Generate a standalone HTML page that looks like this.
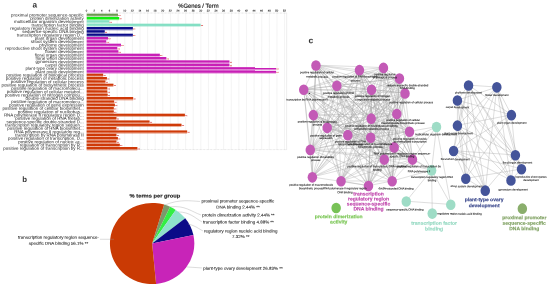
<!DOCTYPE html>
<html><head><meta charset="utf-8"><style>
html,body{margin:0;padding:0;background:#fff;}
svg{display:block;font-family:"Liberation Sans", Arial, sans-serif;text-rendering:geometricPrecision;}
</style></head><body>
<svg width="550" height="287" viewBox="0 0 550 287">
<rect width="550" height="287" fill="#fff"/>
<g transform="rotate(0.04 275 143)">
<text x="32.4" y="7.7" font-size="8.2" font-weight="bold" fill="#2e2e2e">a</text>
<text x="198.3" y="7.9" font-size="5.9" fill="#222" stroke="#222" stroke-width="0.18" text-anchor="middle">%Genes / Term</text>
<line x1="86.70" y1="12.6" x2="86.70" y2="149.94" stroke="#e6e6e6" stroke-width="0.45"/>
<text x="86.50" y="11.6" font-size="2.6" fill="#333" stroke="#333" stroke-width="0.12" text-anchor="middle">0</text>
<line x1="94.31" y1="12.6" x2="94.31" y2="149.94" stroke="#e6e6e6" stroke-width="0.45"/>
<text x="94.11" y="11.6" font-size="2.6" fill="#333" stroke="#333" stroke-width="0.12" text-anchor="middle">2</text>
<line x1="101.92" y1="12.6" x2="101.92" y2="149.94" stroke="#e6e6e6" stroke-width="0.45"/>
<text x="101.72" y="11.6" font-size="2.6" fill="#333" stroke="#333" stroke-width="0.12" text-anchor="middle">4</text>
<line x1="109.52" y1="12.6" x2="109.52" y2="149.94" stroke="#e6e6e6" stroke-width="0.45"/>
<text x="109.32" y="11.6" font-size="2.6" fill="#333" stroke="#333" stroke-width="0.12" text-anchor="middle">6</text>
<line x1="117.13" y1="12.6" x2="117.13" y2="149.94" stroke="#e6e6e6" stroke-width="0.45"/>
<text x="116.93" y="11.6" font-size="2.6" fill="#333" stroke="#333" stroke-width="0.12" text-anchor="middle">8</text>
<line x1="124.74" y1="12.6" x2="124.74" y2="149.94" stroke="#e6e6e6" stroke-width="0.45"/>
<text x="124.54" y="11.6" font-size="2.6" fill="#333" stroke="#333" stroke-width="0.12" text-anchor="middle">10</text>
<line x1="132.35" y1="12.6" x2="132.35" y2="149.94" stroke="#e6e6e6" stroke-width="0.45"/>
<text x="132.15" y="11.6" font-size="2.6" fill="#333" stroke="#333" stroke-width="0.12" text-anchor="middle">12</text>
<line x1="139.96" y1="12.6" x2="139.96" y2="149.94" stroke="#e6e6e6" stroke-width="0.45"/>
<text x="139.76" y="11.6" font-size="2.6" fill="#333" stroke="#333" stroke-width="0.12" text-anchor="middle">14</text>
<line x1="147.56" y1="12.6" x2="147.56" y2="149.94" stroke="#e6e6e6" stroke-width="0.45"/>
<text x="147.36" y="11.6" font-size="2.6" fill="#333" stroke="#333" stroke-width="0.12" text-anchor="middle">16</text>
<line x1="155.17" y1="12.6" x2="155.17" y2="149.94" stroke="#e6e6e6" stroke-width="0.45"/>
<text x="154.97" y="11.6" font-size="2.6" fill="#333" stroke="#333" stroke-width="0.12" text-anchor="middle">18</text>
<line x1="162.78" y1="12.6" x2="162.78" y2="149.94" stroke="#e6e6e6" stroke-width="0.45"/>
<text x="162.58" y="11.6" font-size="2.6" fill="#333" stroke="#333" stroke-width="0.12" text-anchor="middle">20</text>
<line x1="170.39" y1="12.6" x2="170.39" y2="149.94" stroke="#e6e6e6" stroke-width="0.45"/>
<text x="170.19" y="11.6" font-size="2.6" fill="#333" stroke="#333" stroke-width="0.12" text-anchor="middle">22</text>
<line x1="178.00" y1="12.6" x2="178.00" y2="149.94" stroke="#e6e6e6" stroke-width="0.45"/>
<text x="177.80" y="11.6" font-size="2.6" fill="#333" stroke="#333" stroke-width="0.12" text-anchor="middle">24</text>
<line x1="185.60" y1="12.6" x2="185.60" y2="149.94" stroke="#e6e6e6" stroke-width="0.45"/>
<text x="185.40" y="11.6" font-size="2.6" fill="#333" stroke="#333" stroke-width="0.12" text-anchor="middle">26</text>
<line x1="193.21" y1="12.6" x2="193.21" y2="149.94" stroke="#e6e6e6" stroke-width="0.45"/>
<text x="193.01" y="11.6" font-size="2.6" fill="#333" stroke="#333" stroke-width="0.12" text-anchor="middle">28</text>
<line x1="200.82" y1="12.6" x2="200.82" y2="149.94" stroke="#e6e6e6" stroke-width="0.45"/>
<text x="200.62" y="11.6" font-size="2.6" fill="#333" stroke="#333" stroke-width="0.12" text-anchor="middle">30</text>
<line x1="208.43" y1="12.6" x2="208.43" y2="149.94" stroke="#e6e6e6" stroke-width="0.45"/>
<text x="208.23" y="11.6" font-size="2.6" fill="#333" stroke="#333" stroke-width="0.12" text-anchor="middle">32</text>
<line x1="216.04" y1="12.6" x2="216.04" y2="149.94" stroke="#e6e6e6" stroke-width="0.45"/>
<text x="215.84" y="11.6" font-size="2.6" fill="#333" stroke="#333" stroke-width="0.12" text-anchor="middle">34</text>
<line x1="223.64" y1="12.6" x2="223.64" y2="149.94" stroke="#e6e6e6" stroke-width="0.45"/>
<text x="223.44" y="11.6" font-size="2.6" fill="#333" stroke="#333" stroke-width="0.12" text-anchor="middle">36</text>
<line x1="231.25" y1="12.6" x2="231.25" y2="149.94" stroke="#e6e6e6" stroke-width="0.45"/>
<text x="231.05" y="11.6" font-size="2.6" fill="#333" stroke="#333" stroke-width="0.12" text-anchor="middle">38</text>
<line x1="238.86" y1="12.6" x2="238.86" y2="149.94" stroke="#e6e6e6" stroke-width="0.45"/>
<text x="238.66" y="11.6" font-size="2.6" fill="#333" stroke="#333" stroke-width="0.12" text-anchor="middle">40</text>
<line x1="246.47" y1="12.6" x2="246.47" y2="149.94" stroke="#e6e6e6" stroke-width="0.45"/>
<text x="246.27" y="11.6" font-size="2.6" fill="#333" stroke="#333" stroke-width="0.12" text-anchor="middle">42</text>
<line x1="254.08" y1="12.6" x2="254.08" y2="149.94" stroke="#e6e6e6" stroke-width="0.45"/>
<text x="253.88" y="11.6" font-size="2.6" fill="#333" stroke="#333" stroke-width="0.12" text-anchor="middle">44</text>
<line x1="261.68" y1="12.6" x2="261.68" y2="149.94" stroke="#e6e6e6" stroke-width="0.45"/>
<text x="261.48" y="11.6" font-size="2.6" fill="#333" stroke="#333" stroke-width="0.12" text-anchor="middle">46</text>
<line x1="269.29" y1="12.6" x2="269.29" y2="149.94" stroke="#e6e6e6" stroke-width="0.45"/>
<text x="269.09" y="11.6" font-size="2.6" fill="#333" stroke="#333" stroke-width="0.12" text-anchor="middle">48</text>
<line x1="276.90" y1="12.6" x2="276.90" y2="149.94" stroke="#e6e6e6" stroke-width="0.45"/>
<text x="276.70" y="11.6" font-size="2.6" fill="#333" stroke="#333" stroke-width="0.12" text-anchor="middle">50</text>
<line x1="284.51" y1="12.6" x2="284.51" y2="149.94" stroke="#e6e6e6" stroke-width="0.45"/>
<text x="284.31" y="11.6" font-size="2.6" fill="#333" stroke="#333" stroke-width="0.12" text-anchor="middle">52</text>
<line x1="86.7" y1="13.1" x2="286.6" y2="13.1" stroke="#b8b8b8" stroke-width="0.5" stroke-dasharray="0.7 0.7"/>
<line x1="286.6" y1="12.6" x2="286.6" y2="149.94" stroke="#dcdcdc" stroke-width="0.5"/>
<line x1="86.7" y1="149.6" x2="286.6" y2="149.6" stroke="#c4c4c4" stroke-width="0.5" stroke-dasharray="0.7 0.7"/>
<rect x="86.7" y="13.80" width="31.19" height="3.335" fill="#6b9850" fill-opacity="0.4"/>
<rect x="86.7" y="13.80" width="31.19" height="2.15" fill="#6b9850"/>
<text x="118.19" y="17.15" font-size="3.0" font-weight="bold" fill="#d42a2a">**</text>
<text transform="translate(83.7 0) scale(1.035 1)" x="0" y="16.60" font-size="4.3" fill="#222" text-anchor="end">proximal promoter sequence-specific</text>
<rect x="86.7" y="17.14" width="32.33" height="3.335" fill="#10ee10" fill-opacity="0.4"/>
<rect x="86.7" y="17.14" width="32.33" height="2.15" fill="#10ee10"/>
<text x="119.33" y="20.48" font-size="3.0" font-weight="bold" fill="#d42a2a">**</text>
<text transform="translate(83.7 0) scale(1.035 1)" x="0" y="19.93" font-size="4.3" fill="#222" text-anchor="end">protein dimerization activity</text>
<rect x="86.7" y="20.47" width="22.44" height="3.335" fill="#84dfc4" fill-opacity="0.4"/>
<rect x="86.7" y="20.47" width="22.44" height="2.15" fill="#84dfc4"/>
<text x="109.44" y="23.82" font-size="3.0" font-weight="bold" fill="#d42a2a">**</text>
<text transform="translate(83.7 0) scale(1.035 1)" x="0" y="23.27" font-size="4.3" fill="#222" text-anchor="end">multicellular organism development</text>
<rect x="86.7" y="23.80" width="113.74" height="3.335" fill="#84dfc4" fill-opacity="0.4"/>
<rect x="86.7" y="23.80" width="113.74" height="2.15" fill="#84dfc4"/>
<text x="200.74" y="27.15" font-size="3.0" font-weight="bold" fill="#d42a2a">**</text>
<text transform="translate(83.7 0) scale(1.035 1)" x="0" y="26.60" font-size="4.3" fill="#222" text-anchor="end">transcription factor binding</text>
<rect x="86.7" y="27.14" width="46.03" height="3.335" fill="#0b0b8a" fill-opacity="0.4"/>
<rect x="86.7" y="27.14" width="46.03" height="2.15" fill="#0b0b8a"/>
<text x="133.03" y="30.49" font-size="3.0" font-weight="bold" fill="#d42a2a">**</text>
<text transform="translate(83.7 0) scale(1.035 1)" x="0" y="29.94" font-size="4.3" fill="#222" text-anchor="end">regulatory region nucleic acid binding</text>
<rect x="86.7" y="30.48" width="17.88" height="3.335" fill="#0b0b8a" fill-opacity="0.4"/>
<rect x="86.7" y="30.48" width="17.88" height="2.15" fill="#0b0b8a"/>
<text x="104.88" y="33.83" font-size="3.0" font-weight="bold" fill="#d42a2a">**</text>
<text transform="translate(83.7 0) scale(1.035 1)" x="0" y="33.27" font-size="4.3" fill="#222" text-anchor="end">sequence-specific DNA binding</text>
<rect x="86.7" y="33.81" width="46.03" height="3.335" fill="#0b0b8a" fill-opacity="0.4"/>
<rect x="86.7" y="33.81" width="46.03" height="2.15" fill="#0b0b8a"/>
<text x="133.03" y="37.16" font-size="3.0" font-weight="bold" fill="#d42a2a">**</text>
<text transform="translate(83.7 0) scale(1.035 1)" x="0" y="36.61" font-size="4.3" fill="#222" text-anchor="end">transcription regulatory region D...</text>
<rect x="86.7" y="37.14" width="21.30" height="3.335" fill="#c81fb6" fill-opacity="0.4"/>
<rect x="86.7" y="37.14" width="21.30" height="2.15" fill="#c81fb6"/>
<text x="108.30" y="40.49" font-size="3.0" font-weight="bold" fill="#d42a2a">**</text>
<text transform="translate(83.7 0) scale(1.035 1)" x="0" y="39.94" font-size="4.3" fill="#222" text-anchor="end">plant organ development</text>
<rect x="86.7" y="40.48" width="19.40" height="3.335" fill="#c81fb6" fill-opacity="0.4"/>
<rect x="86.7" y="40.48" width="19.40" height="2.15" fill="#c81fb6"/>
<text x="106.40" y="43.83" font-size="3.0" font-weight="bold" fill="#d42a2a">**</text>
<text transform="translate(83.7 0) scale(1.035 1)" x="0" y="43.28" font-size="4.3" fill="#222" text-anchor="end">shoot system development</text>
<rect x="86.7" y="43.81" width="34.24" height="3.335" fill="#c81fb6" fill-opacity="0.4"/>
<rect x="86.7" y="43.81" width="34.24" height="2.15" fill="#c81fb6"/>
<text x="121.24" y="47.16" font-size="3.0" font-weight="bold" fill="#d42a2a">**</text>
<text transform="translate(83.7 0) scale(1.035 1)" x="0" y="46.61" font-size="4.3" fill="#222" text-anchor="end">phyllome development</text>
<rect x="86.7" y="47.15" width="30.43" height="3.335" fill="#c81fb6" fill-opacity="0.4"/>
<rect x="86.7" y="47.15" width="30.43" height="2.15" fill="#c81fb6"/>
<text x="117.43" y="50.50" font-size="3.0" font-weight="bold" fill="#d42a2a">**</text>
<text transform="translate(83.7 0) scale(1.035 1)" x="0" y="49.95" font-size="4.3" fill="#222" text-anchor="end">reproductive shoot system development</text>
<rect x="86.7" y="50.48" width="31.57" height="3.335" fill="#c81fb6" fill-opacity="0.4"/>
<rect x="86.7" y="50.48" width="31.57" height="2.15" fill="#c81fb6"/>
<text x="118.57" y="53.84" font-size="3.0" font-weight="bold" fill="#d42a2a">**</text>
<text transform="translate(83.7 0) scale(1.035 1)" x="0" y="53.28" font-size="4.3" fill="#222" text-anchor="end">flower development</text>
<rect x="86.7" y="53.82" width="73.04" height="3.335" fill="#c81fb6" fill-opacity="0.4"/>
<rect x="86.7" y="53.82" width="73.04" height="2.15" fill="#c81fb6"/>
<text x="160.04" y="57.17" font-size="3.0" font-weight="bold" fill="#d42a2a">**</text>
<text transform="translate(83.7 0) scale(1.035 1)" x="0" y="56.62" font-size="4.3" fill="#222" text-anchor="end">floral organ development</text>
<rect x="86.7" y="57.16" width="79.50" height="3.335" fill="#c81fb6" fill-opacity="0.4"/>
<rect x="86.7" y="57.16" width="79.50" height="2.15" fill="#c81fb6"/>
<text x="166.50" y="60.51" font-size="3.0" font-weight="bold" fill="#d42a2a">**</text>
<text transform="translate(83.7 0) scale(1.035 1)" x="0" y="59.95" font-size="4.3" fill="#222" text-anchor="end">floral whorl development</text>
<rect x="86.7" y="60.49" width="142.65" height="3.335" fill="#c81fb6" fill-opacity="0.4"/>
<rect x="86.7" y="60.49" width="142.65" height="2.15" fill="#c81fb6"/>
<text x="229.65" y="63.84" font-size="3.0" font-weight="bold" fill="#d42a2a">**</text>
<text transform="translate(83.7 0) scale(1.035 1)" x="0" y="63.29" font-size="4.3" fill="#222" text-anchor="end">gynoecium development</text>
<rect x="86.7" y="63.83" width="142.65" height="3.335" fill="#c81fb6" fill-opacity="0.4"/>
<rect x="86.7" y="63.83" width="142.65" height="2.15" fill="#c81fb6"/>
<text x="229.65" y="67.18" font-size="3.0" font-weight="bold" fill="#d42a2a">**</text>
<text transform="translate(83.7 0) scale(1.035 1)" x="0" y="66.63" font-size="4.3" fill="#222" text-anchor="end">carpel development</text>
<rect x="86.7" y="67.16" width="189.25" height="3.335" fill="#c81fb6" fill-opacity="0.4"/>
<rect x="86.7" y="67.16" width="189.25" height="2.15" fill="#c81fb6"/>
<text x="276.25" y="70.51" font-size="3.0" font-weight="bold" fill="#d42a2a">**</text>
<text transform="translate(83.7 0) scale(1.035 1)" x="0" y="69.96" font-size="4.3" fill="#222" text-anchor="end">plant-type ovary development</text>
<rect x="86.7" y="70.50" width="189.25" height="3.335" fill="#c81fb6" fill-opacity="0.4"/>
<rect x="86.7" y="70.50" width="189.25" height="2.15" fill="#c81fb6"/>
<text x="276.25" y="73.85" font-size="3.0" font-weight="bold" fill="#d42a2a">**</text>
<text transform="translate(83.7 0) scale(1.035 1)" x="0" y="73.30" font-size="4.3" fill="#222" text-anchor="end">plant ovule development</text>
<rect x="86.7" y="73.83" width="16.36" height="3.335" fill="#cf3a08" fill-opacity="0.4"/>
<rect x="86.7" y="73.83" width="16.36" height="2.15" fill="#cf3a08"/>
<text x="103.36" y="77.18" font-size="3.0" font-weight="bold" fill="#d42a2a">**</text>
<text transform="translate(83.7 0) scale(1.035 1)" x="0" y="76.63" font-size="4.3" fill="#222" text-anchor="end">positive regulation of biological process</text>
<rect x="86.7" y="77.17" width="20.16" height="3.335" fill="#cf3a08" fill-opacity="0.4"/>
<rect x="86.7" y="77.17" width="20.16" height="2.15" fill="#cf3a08"/>
<text x="107.16" y="80.52" font-size="3.0" font-weight="bold" fill="#d42a2a">**</text>
<text transform="translate(83.7 0) scale(1.035 1)" x="0" y="79.97" font-size="4.3" fill="#222" text-anchor="end">positive regulation of metabolic process</text>
<rect x="86.7" y="80.50" width="18.64" height="3.335" fill="#cf3a08" fill-opacity="0.4"/>
<rect x="86.7" y="80.50" width="18.64" height="2.15" fill="#cf3a08"/>
<text x="105.64" y="83.85" font-size="3.0" font-weight="bold" fill="#d42a2a">**</text>
<text transform="translate(83.7 0) scale(1.035 1)" x="0" y="83.30" font-size="4.3" fill="#222" text-anchor="end">positive regulation of cellular process</text>
<rect x="86.7" y="83.83" width="26.63" height="3.335" fill="#cf3a08" fill-opacity="0.4"/>
<rect x="86.7" y="83.83" width="26.63" height="2.15" fill="#cf3a08"/>
<text x="113.63" y="87.19" font-size="3.0" font-weight="bold" fill="#d42a2a">**</text>
<text transform="translate(83.7 0) scale(1.035 1)" x="0" y="86.64" font-size="4.3" fill="#222" text-anchor="end">positive regulation of biosynthetic process</text>
<rect x="86.7" y="87.17" width="20.54" height="3.335" fill="#cf3a08" fill-opacity="0.4"/>
<rect x="86.7" y="87.17" width="20.54" height="2.15" fill="#cf3a08"/>
<text x="107.54" y="90.52" font-size="3.0" font-weight="bold" fill="#d42a2a">**</text>
<text transform="translate(83.7 0) scale(1.035 1)" x="0" y="89.97" font-size="4.3" fill="#222" text-anchor="end">positive regulation of macromolecu...</text>
<rect x="86.7" y="90.50" width="20.54" height="3.335" fill="#cf3a08" fill-opacity="0.4"/>
<rect x="86.7" y="90.50" width="20.54" height="2.15" fill="#cf3a08"/>
<text x="107.54" y="93.86" font-size="3.0" font-weight="bold" fill="#d42a2a">**</text>
<text transform="translate(83.7 0) scale(1.035 1)" x="0" y="93.31" font-size="4.3" fill="#222" text-anchor="end">positive regulation of cellular metabol...</text>
<rect x="86.7" y="93.84" width="20.92" height="3.335" fill="#cf3a08" fill-opacity="0.4"/>
<rect x="86.7" y="93.84" width="20.92" height="2.15" fill="#cf3a08"/>
<text x="107.92" y="97.19" font-size="3.0" font-weight="bold" fill="#d42a2a">**</text>
<text transform="translate(83.7 0) scale(1.035 1)" x="0" y="96.64" font-size="4.3" fill="#222" text-anchor="end">positive regulation of nitrogen compou...</text>
<rect x="86.7" y="97.17" width="46.41" height="3.335" fill="#cf3a08" fill-opacity="0.4"/>
<rect x="86.7" y="97.17" width="46.41" height="2.15" fill="#cf3a08"/>
<text x="133.41" y="100.53" font-size="3.0" font-weight="bold" fill="#d42a2a">**</text>
<text transform="translate(83.7 0) scale(1.035 1)" x="0" y="99.98" font-size="4.3" fill="#222" text-anchor="end">double-stranded DNA binding</text>
<rect x="86.7" y="100.51" width="27.39" height="3.335" fill="#cf3a08" fill-opacity="0.4"/>
<rect x="86.7" y="100.51" width="27.39" height="2.15" fill="#cf3a08"/>
<text x="114.39" y="103.86" font-size="3.0" font-weight="bold" fill="#d42a2a">**</text>
<text transform="translate(83.7 0) scale(1.035 1)" x="0" y="103.31" font-size="4.3" fill="#222" text-anchor="end">positive regulation of macromolecu...</text>
<rect x="86.7" y="103.84" width="28.15" height="3.335" fill="#cf3a08" fill-opacity="0.4"/>
<rect x="86.7" y="103.84" width="28.15" height="2.15" fill="#cf3a08"/>
<text x="115.15" y="107.20" font-size="3.0" font-weight="bold" fill="#d42a2a">**</text>
<text transform="translate(83.7 0) scale(1.035 1)" x="0" y="106.65" font-size="4.3" fill="#222" text-anchor="end">positive regulation of gene expression</text>
<rect x="86.7" y="107.18" width="27.01" height="3.335" fill="#cf3a08" fill-opacity="0.4"/>
<rect x="86.7" y="107.18" width="27.01" height="2.15" fill="#cf3a08"/>
<text x="114.01" y="110.53" font-size="3.0" font-weight="bold" fill="#d42a2a">**</text>
<text transform="translate(83.7 0) scale(1.035 1)" x="0" y="109.98" font-size="4.3" fill="#222" text-anchor="end">positive regulation of cellular biosynthet...</text>
<rect x="86.7" y="110.52" width="27.01" height="3.335" fill="#cf3a08" fill-opacity="0.4"/>
<rect x="86.7" y="110.52" width="27.01" height="2.15" fill="#cf3a08"/>
<text x="114.01" y="113.87" font-size="3.0" font-weight="bold" fill="#d42a2a">**</text>
<text transform="translate(83.7 0) scale(1.035 1)" x="0" y="113.32" font-size="4.3" fill="#222" text-anchor="end">positive regulation of nucleobas...</text>
<rect x="86.7" y="113.85" width="98.14" height="3.335" fill="#cf3a08" fill-opacity="0.4"/>
<rect x="86.7" y="113.85" width="98.14" height="2.15" fill="#cf3a08"/>
<text x="185.14" y="117.20" font-size="3.0" font-weight="bold" fill="#d42a2a">**</text>
<text transform="translate(83.7 0) scale(1.035 1)" x="0" y="116.65" font-size="4.3" fill="#222" text-anchor="end">RNA polymerase II regulatory region D...</text>
<rect x="86.7" y="117.19" width="29.67" height="3.335" fill="#cf3a08" fill-opacity="0.4"/>
<rect x="86.7" y="117.19" width="29.67" height="2.15" fill="#cf3a08"/>
<text x="116.67" y="120.54" font-size="3.0" font-weight="bold" fill="#d42a2a">**</text>
<text transform="translate(83.7 0) scale(1.035 1)" x="0" y="119.99" font-size="4.3" fill="#222" text-anchor="end">positive regulation of RNA metab...</text>
<rect x="86.7" y="120.52" width="62.77" height="3.335" fill="#cf3a08" fill-opacity="0.4"/>
<rect x="86.7" y="120.52" width="62.77" height="2.15" fill="#cf3a08"/>
<text x="149.77" y="123.87" font-size="3.0" font-weight="bold" fill="#d42a2a">**</text>
<text transform="translate(83.7 0) scale(1.035 1)" x="0" y="123.32" font-size="4.3" fill="#222" text-anchor="end">sequence-specific double-stranded D...</text>
<rect x="86.7" y="123.85" width="94.72" height="3.335" fill="#cf3a08" fill-opacity="0.4"/>
<rect x="86.7" y="123.85" width="94.72" height="2.15" fill="#cf3a08"/>
<text x="181.72" y="127.20" font-size="3.0" font-weight="bold" fill="#d42a2a">**</text>
<text transform="translate(83.7 0) scale(1.035 1)" x="0" y="126.66" font-size="4.3" fill="#222" text-anchor="end">transcription regulatory region sequen...</text>
<rect x="86.7" y="127.19" width="29.67" height="3.335" fill="#cf3a08" fill-opacity="0.4"/>
<rect x="86.7" y="127.19" width="29.67" height="2.15" fill="#cf3a08"/>
<text x="116.67" y="130.54" font-size="3.0" font-weight="bold" fill="#d42a2a">**</text>
<text transform="translate(83.7 0) scale(1.035 1)" x="0" y="129.99" font-size="4.3" fill="#222" text-anchor="end">positive regulation of RNA biosynthet...</text>
<rect x="86.7" y="130.53" width="100.43" height="3.335" fill="#cf3a08" fill-opacity="0.4"/>
<rect x="86.7" y="130.53" width="100.43" height="2.15" fill="#cf3a08"/>
<text x="187.43" y="133.88" font-size="3.0" font-weight="bold" fill="#d42a2a">**</text>
<text transform="translate(83.7 0) scale(1.035 1)" x="0" y="133.33" font-size="4.3" fill="#222" text-anchor="end">RNA polymerase II regulatory reg...</text>
<rect x="86.7" y="133.86" width="29.67" height="3.335" fill="#cf3a08" fill-opacity="0.4"/>
<rect x="86.7" y="133.86" width="29.67" height="2.15" fill="#cf3a08"/>
<text x="116.67" y="137.21" font-size="3.0" font-weight="bold" fill="#d42a2a">**</text>
<text transform="translate(83.7 0) scale(1.035 1)" x="0" y="136.66" font-size="4.3" fill="#222" text-anchor="end">transcription by RNA polymerase II</text>
<rect x="86.7" y="137.19" width="31.19" height="3.335" fill="#cf3a08" fill-opacity="0.4"/>
<rect x="86.7" y="137.19" width="31.19" height="2.15" fill="#cf3a08"/>
<text x="118.19" y="140.54" font-size="3.0" font-weight="bold" fill="#d42a2a">**</text>
<text transform="translate(83.7 0) scale(1.035 1)" x="0" y="140.00" font-size="4.3" fill="#222" text-anchor="end">positive regulation of transcription, D...</text>
<rect x="86.7" y="140.53" width="29.67" height="3.335" fill="#cf3a08" fill-opacity="0.4"/>
<rect x="86.7" y="140.53" width="29.67" height="2.15" fill="#cf3a08"/>
<text x="116.67" y="143.88" font-size="3.0" font-weight="bold" fill="#d42a2a">**</text>
<text transform="translate(83.7 0) scale(1.035 1)" x="0" y="143.33" font-size="4.3" fill="#222" text-anchor="end">positive regulation of nucleic ac...</text>
<rect x="86.7" y="143.87" width="33.09" height="3.335" fill="#cf3a08" fill-opacity="0.4"/>
<rect x="86.7" y="143.87" width="33.09" height="2.15" fill="#cf3a08"/>
<text x="120.09" y="147.22" font-size="3.0" font-weight="bold" fill="#d42a2a">**</text>
<text transform="translate(83.7 0) scale(1.035 1)" x="0" y="146.67" font-size="4.3" fill="#222" text-anchor="end">regulation of transcription by R...</text>
<rect x="86.7" y="147.20" width="50.59" height="3.335" fill="#cf3a08" fill-opacity="0.4"/>
<rect x="86.7" y="147.20" width="50.59" height="2.15" fill="#cf3a08"/>
<text x="137.59" y="150.55" font-size="3.0" font-weight="bold" fill="#d42a2a">**</text>
<text transform="translate(83.7 0) scale(1.035 1)" x="0" y="150.00" font-size="4.3" fill="#222" text-anchor="end">positive regulation of transcription by R...</text>
<text x="22.4" y="182.1" font-size="7.8" font-weight="bold" fill="#3a3a3a">b</text>
<text transform="translate(155 0) scale(1.15 1)" x="0" y="197.6" font-size="5.0" font-weight="bold" fill="#222" stroke="#222" stroke-width="0.15" text-anchor="middle">% terms per group</text>
<path d="M152.2,243.6 L164.19,204.67 A42.2,40.6 0 0 1 170.22,206.89 Z" fill="#7b9a6b"/>
<path d="M152.2,243.6 L170.22,206.89 A42.2,40.6 0 0 1 175.84,209.97 Z" fill="#33ee44"/>
<path d="M152.2,243.6 L175.84,209.97 A42.2,40.6 0 0 1 185.29,218.40 Z" fill="#8fe2cc"/>
<path d="M152.2,243.6 L185.29,218.40 A42.2,40.6 0 0 1 193.48,235.15 Z" fill="#0b0b88"/>
<path d="M152.2,243.6 L193.48,235.15 A42.2,40.6 0 0 1 156.20,284.02 Z" fill="#c824b8"/>
<path d="M152.2,243.6 L156.20,284.02 A42.2,40.6 0 1 1 164.19,204.67 Z" fill="#ca3a04"/>
<path d="M165,205 C180,199 190,201 200,201.5" stroke="#9a9a9a" stroke-width="0.35" fill="none"/>
<path d="M170,207 C185,205 192,212 201,215" stroke="#9a9a9a" stroke-width="0.35" fill="none"/>
<path d="M178,212 C190,212 195,218 202,222" stroke="#9a9a9a" stroke-width="0.35" fill="none"/>
<path d="M188,224 C196,226 199,229 203,231" stroke="#9a9a9a" stroke-width="0.35" fill="none"/>
<path d="M187,267 L202,268" stroke="#9a9a9a" stroke-width="0.35" fill="none"/>
<path d="M100,239.4 L114,239.4" stroke="#9a9a9a" stroke-width="0.35" fill="none"/>
<text transform="translate(238 0) scale(1.087 1)" x="0" y="202.50" font-size="4.1" fill="#222" stroke="#222" stroke-width="0.07" text-anchor="middle">proximal promoter sequence-specific</text>
<text transform="translate(238 0) scale(1.087 1)" x="0" y="208.50" font-size="4.1" fill="#222" stroke="#222" stroke-width="0.07" text-anchor="middle">DNA binding 2.44% **</text>
<text transform="translate(238.5 0) scale(1.087 1)" x="0" y="216.50" font-size="4.1" fill="#222" stroke="#222" stroke-width="0.07" text-anchor="middle">protein dimerization activity 2.44% **</text>
<text transform="translate(238.5 0) scale(1.087 1)" x="0" y="223.50" font-size="4.1" fill="#222" stroke="#222" stroke-width="0.07" text-anchor="middle">transcription factor binding 4.88% **</text>
<text transform="translate(240.8 0) scale(1.087 1)" x="0" y="232.50" font-size="4.1" fill="#222" stroke="#222" stroke-width="0.07" text-anchor="middle">regulatory region nucleic acid binding</text>
<text transform="translate(240.8 0) scale(1.087 1)" x="0" y="238.00" font-size="4.1" fill="#222" stroke="#222" stroke-width="0.07" text-anchor="middle">7.32% **</text>
<text transform="translate(58.6 0) scale(1.087 1)" x="0" y="238.90" font-size="4.1" fill="#222" stroke="#222" stroke-width="0.07" text-anchor="middle">transcription regulatory region sequence-</text>
<text transform="translate(58.6 0) scale(1.087 1)" x="0" y="244.90" font-size="4.1" fill="#222" stroke="#222" stroke-width="0.07" text-anchor="middle">specific DNA binding 56.1% **</text>
<text transform="translate(203.3 0) scale(1.087 1)" x="0" y="269.80" font-size="4.1" fill="#222" stroke="#222" stroke-width="0.07" text-anchor="start">plant-type ovary development 26.83% **</text>
<text x="308.4" y="43.3" font-size="8.6" font-weight="bold" fill="#333">c</text>
<g stroke="#a2a2a2" stroke-width="0.36">
<line x1="315.9" y1="65.1" x2="359.4" y2="69.8"/>
<line x1="315.9" y1="65.1" x2="383.4" y2="67.5"/>
<line x1="315.9" y1="65.1" x2="399.4" y2="78.2"/>
<line x1="315.9" y1="65.1" x2="303.7" y2="89.5"/>
<line x1="315.9" y1="65.1" x2="336.8" y2="85.5"/>
<line x1="315.9" y1="65.1" x2="371.5" y2="89.5"/>
<line x1="315.9" y1="65.1" x2="405" y2="93"/>
<line x1="315.9" y1="65.1" x2="313.3" y2="114.8"/>
<line x1="315.9" y1="65.1" x2="327.2" y2="127.5"/>
<line x1="315.9" y1="65.1" x2="347.8" y2="134.8"/>
<line x1="315.9" y1="65.1" x2="310.3" y2="149.6"/>
<line x1="315.9" y1="65.1" x2="371.2" y2="118.3"/>
<line x1="315.9" y1="65.1" x2="396.8" y2="113.6"/>
<line x1="315.9" y1="65.1" x2="409.5" y2="131.3"/>
<line x1="315.9" y1="65.1" x2="370.7" y2="137.4"/>
<line x1="315.9" y1="65.1" x2="394.2" y2="147"/>
<line x1="315.9" y1="65.1" x2="384.3" y2="159.2"/>
<line x1="315.9" y1="65.1" x2="312.4" y2="177"/>
<line x1="315.9" y1="65.1" x2="341.1" y2="180.9"/>
<line x1="315.9" y1="65.1" x2="392.2" y2="180.9"/>
<line x1="359.4" y1="69.8" x2="383.4" y2="67.5"/>
<line x1="359.4" y1="69.8" x2="399.4" y2="78.2"/>
<line x1="359.4" y1="69.8" x2="303.7" y2="89.5"/>
<line x1="359.4" y1="69.8" x2="336.8" y2="85.5"/>
<line x1="359.4" y1="69.8" x2="371.5" y2="89.5"/>
<line x1="359.4" y1="69.8" x2="405" y2="93"/>
<line x1="359.4" y1="69.8" x2="313.3" y2="114.8"/>
<line x1="359.4" y1="69.8" x2="327.2" y2="127.5"/>
<line x1="359.4" y1="69.8" x2="347.8" y2="134.8"/>
<line x1="359.4" y1="69.8" x2="310.3" y2="149.6"/>
<line x1="359.4" y1="69.8" x2="371.2" y2="118.3"/>
<line x1="359.4" y1="69.8" x2="396.8" y2="113.6"/>
<line x1="359.4" y1="69.8" x2="409.5" y2="131.3"/>
<line x1="359.4" y1="69.8" x2="370.7" y2="137.4"/>
<line x1="359.4" y1="69.8" x2="394.2" y2="147"/>
<line x1="359.4" y1="69.8" x2="384.3" y2="159.2"/>
<line x1="359.4" y1="69.8" x2="412.5" y2="159.2"/>
<line x1="359.4" y1="69.8" x2="312.4" y2="177"/>
<line x1="359.4" y1="69.8" x2="341.1" y2="180.9"/>
<line x1="359.4" y1="69.8" x2="368.5" y2="185.6"/>
<line x1="359.4" y1="69.8" x2="392.2" y2="180.9"/>
<line x1="383.4" y1="67.5" x2="399.4" y2="78.2"/>
<line x1="383.4" y1="67.5" x2="303.7" y2="89.5"/>
<line x1="383.4" y1="67.5" x2="336.8" y2="85.5"/>
<line x1="383.4" y1="67.5" x2="371.5" y2="89.5"/>
<line x1="383.4" y1="67.5" x2="405" y2="93"/>
<line x1="383.4" y1="67.5" x2="313.3" y2="114.8"/>
<line x1="383.4" y1="67.5" x2="327.2" y2="127.5"/>
<line x1="383.4" y1="67.5" x2="310.3" y2="149.6"/>
<line x1="383.4" y1="67.5" x2="371.2" y2="118.3"/>
<line x1="383.4" y1="67.5" x2="396.8" y2="113.6"/>
<line x1="383.4" y1="67.5" x2="409.5" y2="131.3"/>
<line x1="383.4" y1="67.5" x2="370.7" y2="137.4"/>
<line x1="383.4" y1="67.5" x2="394.2" y2="147"/>
<line x1="383.4" y1="67.5" x2="384.3" y2="159.2"/>
<line x1="383.4" y1="67.5" x2="412.5" y2="159.2"/>
<line x1="383.4" y1="67.5" x2="312.4" y2="177"/>
<line x1="383.4" y1="67.5" x2="341.1" y2="180.9"/>
<line x1="383.4" y1="67.5" x2="368.5" y2="185.6"/>
<line x1="383.4" y1="67.5" x2="392.2" y2="180.9"/>
<line x1="399.4" y1="78.2" x2="303.7" y2="89.5"/>
<line x1="399.4" y1="78.2" x2="336.8" y2="85.5"/>
<line x1="399.4" y1="78.2" x2="371.5" y2="89.5"/>
<line x1="399.4" y1="78.2" x2="405" y2="93"/>
<line x1="399.4" y1="78.2" x2="327.2" y2="127.5"/>
<line x1="399.4" y1="78.2" x2="347.8" y2="134.8"/>
<line x1="399.4" y1="78.2" x2="310.3" y2="149.6"/>
<line x1="399.4" y1="78.2" x2="371.2" y2="118.3"/>
<line x1="399.4" y1="78.2" x2="396.8" y2="113.6"/>
<line x1="399.4" y1="78.2" x2="370.7" y2="137.4"/>
<line x1="399.4" y1="78.2" x2="394.2" y2="147"/>
<line x1="399.4" y1="78.2" x2="384.3" y2="159.2"/>
<line x1="399.4" y1="78.2" x2="412.5" y2="159.2"/>
<line x1="399.4" y1="78.2" x2="312.4" y2="177"/>
<line x1="399.4" y1="78.2" x2="341.1" y2="180.9"/>
<line x1="399.4" y1="78.2" x2="368.5" y2="185.6"/>
<line x1="399.4" y1="78.2" x2="392.2" y2="180.9"/>
<line x1="303.7" y1="89.5" x2="336.8" y2="85.5"/>
<line x1="303.7" y1="89.5" x2="371.5" y2="89.5"/>
<line x1="303.7" y1="89.5" x2="405" y2="93"/>
<line x1="303.7" y1="89.5" x2="313.3" y2="114.8"/>
<line x1="303.7" y1="89.5" x2="327.2" y2="127.5"/>
<line x1="303.7" y1="89.5" x2="347.8" y2="134.8"/>
<line x1="303.7" y1="89.5" x2="310.3" y2="149.6"/>
<line x1="303.7" y1="89.5" x2="371.2" y2="118.3"/>
<line x1="303.7" y1="89.5" x2="396.8" y2="113.6"/>
<line x1="303.7" y1="89.5" x2="409.5" y2="131.3"/>
<line x1="303.7" y1="89.5" x2="370.7" y2="137.4"/>
<line x1="303.7" y1="89.5" x2="394.2" y2="147"/>
<line x1="303.7" y1="89.5" x2="384.3" y2="159.2"/>
<line x1="303.7" y1="89.5" x2="412.5" y2="159.2"/>
<line x1="303.7" y1="89.5" x2="312.4" y2="177"/>
<line x1="303.7" y1="89.5" x2="341.1" y2="180.9"/>
<line x1="303.7" y1="89.5" x2="392.2" y2="180.9"/>
<line x1="336.8" y1="85.5" x2="371.5" y2="89.5"/>
<line x1="336.8" y1="85.5" x2="405" y2="93"/>
<line x1="336.8" y1="85.5" x2="313.3" y2="114.8"/>
<line x1="336.8" y1="85.5" x2="327.2" y2="127.5"/>
<line x1="336.8" y1="85.5" x2="347.8" y2="134.8"/>
<line x1="336.8" y1="85.5" x2="310.3" y2="149.6"/>
<line x1="336.8" y1="85.5" x2="371.2" y2="118.3"/>
<line x1="336.8" y1="85.5" x2="396.8" y2="113.6"/>
<line x1="336.8" y1="85.5" x2="409.5" y2="131.3"/>
<line x1="336.8" y1="85.5" x2="370.7" y2="137.4"/>
<line x1="336.8" y1="85.5" x2="384.3" y2="159.2"/>
<line x1="336.8" y1="85.5" x2="412.5" y2="159.2"/>
<line x1="336.8" y1="85.5" x2="312.4" y2="177"/>
<line x1="336.8" y1="85.5" x2="341.1" y2="180.9"/>
<line x1="336.8" y1="85.5" x2="368.5" y2="185.6"/>
<line x1="336.8" y1="85.5" x2="392.2" y2="180.9"/>
<line x1="371.5" y1="89.5" x2="405" y2="93"/>
<line x1="371.5" y1="89.5" x2="313.3" y2="114.8"/>
<line x1="371.5" y1="89.5" x2="327.2" y2="127.5"/>
<line x1="371.5" y1="89.5" x2="347.8" y2="134.8"/>
<line x1="371.5" y1="89.5" x2="310.3" y2="149.6"/>
<line x1="371.5" y1="89.5" x2="371.2" y2="118.3"/>
<line x1="371.5" y1="89.5" x2="396.8" y2="113.6"/>
<line x1="371.5" y1="89.5" x2="409.5" y2="131.3"/>
<line x1="371.5" y1="89.5" x2="370.7" y2="137.4"/>
<line x1="371.5" y1="89.5" x2="394.2" y2="147"/>
<line x1="371.5" y1="89.5" x2="384.3" y2="159.2"/>
<line x1="371.5" y1="89.5" x2="412.5" y2="159.2"/>
<line x1="371.5" y1="89.5" x2="312.4" y2="177"/>
<line x1="371.5" y1="89.5" x2="341.1" y2="180.9"/>
<line x1="371.5" y1="89.5" x2="368.5" y2="185.6"/>
<line x1="371.5" y1="89.5" x2="392.2" y2="180.9"/>
<line x1="405" y1="93" x2="313.3" y2="114.8"/>
<line x1="405" y1="93" x2="327.2" y2="127.5"/>
<line x1="405" y1="93" x2="347.8" y2="134.8"/>
<line x1="405" y1="93" x2="310.3" y2="149.6"/>
<line x1="405" y1="93" x2="371.2" y2="118.3"/>
<line x1="405" y1="93" x2="396.8" y2="113.6"/>
<line x1="405" y1="93" x2="409.5" y2="131.3"/>
<line x1="405" y1="93" x2="370.7" y2="137.4"/>
<line x1="405" y1="93" x2="394.2" y2="147"/>
<line x1="405" y1="93" x2="384.3" y2="159.2"/>
<line x1="405" y1="93" x2="312.4" y2="177"/>
<line x1="405" y1="93" x2="341.1" y2="180.9"/>
<line x1="405" y1="93" x2="368.5" y2="185.6"/>
<line x1="405" y1="93" x2="392.2" y2="180.9"/>
<line x1="313.3" y1="114.8" x2="327.2" y2="127.5"/>
<line x1="313.3" y1="114.8" x2="347.8" y2="134.8"/>
<line x1="313.3" y1="114.8" x2="310.3" y2="149.6"/>
<line x1="313.3" y1="114.8" x2="371.2" y2="118.3"/>
<line x1="313.3" y1="114.8" x2="396.8" y2="113.6"/>
<line x1="313.3" y1="114.8" x2="370.7" y2="137.4"/>
<line x1="313.3" y1="114.8" x2="394.2" y2="147"/>
<line x1="313.3" y1="114.8" x2="384.3" y2="159.2"/>
<line x1="313.3" y1="114.8" x2="412.5" y2="159.2"/>
<line x1="313.3" y1="114.8" x2="312.4" y2="177"/>
<line x1="313.3" y1="114.8" x2="368.5" y2="185.6"/>
<line x1="313.3" y1="114.8" x2="392.2" y2="180.9"/>
<line x1="327.2" y1="127.5" x2="347.8" y2="134.8"/>
<line x1="327.2" y1="127.5" x2="310.3" y2="149.6"/>
<line x1="327.2" y1="127.5" x2="371.2" y2="118.3"/>
<line x1="327.2" y1="127.5" x2="396.8" y2="113.6"/>
<line x1="327.2" y1="127.5" x2="409.5" y2="131.3"/>
<line x1="327.2" y1="127.5" x2="370.7" y2="137.4"/>
<line x1="327.2" y1="127.5" x2="394.2" y2="147"/>
<line x1="327.2" y1="127.5" x2="384.3" y2="159.2"/>
<line x1="327.2" y1="127.5" x2="412.5" y2="159.2"/>
<line x1="327.2" y1="127.5" x2="341.1" y2="180.9"/>
<line x1="327.2" y1="127.5" x2="368.5" y2="185.6"/>
<line x1="327.2" y1="127.5" x2="392.2" y2="180.9"/>
<line x1="347.8" y1="134.8" x2="310.3" y2="149.6"/>
<line x1="347.8" y1="134.8" x2="371.2" y2="118.3"/>
<line x1="347.8" y1="134.8" x2="396.8" y2="113.6"/>
<line x1="347.8" y1="134.8" x2="409.5" y2="131.3"/>
<line x1="347.8" y1="134.8" x2="370.7" y2="137.4"/>
<line x1="347.8" y1="134.8" x2="394.2" y2="147"/>
<line x1="347.8" y1="134.8" x2="384.3" y2="159.2"/>
<line x1="347.8" y1="134.8" x2="412.5" y2="159.2"/>
<line x1="347.8" y1="134.8" x2="312.4" y2="177"/>
<line x1="347.8" y1="134.8" x2="368.5" y2="185.6"/>
<line x1="310.3" y1="149.6" x2="409.5" y2="131.3"/>
<line x1="310.3" y1="149.6" x2="370.7" y2="137.4"/>
<line x1="310.3" y1="149.6" x2="394.2" y2="147"/>
<line x1="310.3" y1="149.6" x2="384.3" y2="159.2"/>
<line x1="310.3" y1="149.6" x2="412.5" y2="159.2"/>
<line x1="310.3" y1="149.6" x2="312.4" y2="177"/>
<line x1="310.3" y1="149.6" x2="368.5" y2="185.6"/>
<line x1="310.3" y1="149.6" x2="392.2" y2="180.9"/>
<line x1="371.2" y1="118.3" x2="396.8" y2="113.6"/>
<line x1="371.2" y1="118.3" x2="409.5" y2="131.3"/>
<line x1="371.2" y1="118.3" x2="370.7" y2="137.4"/>
<line x1="371.2" y1="118.3" x2="394.2" y2="147"/>
<line x1="371.2" y1="118.3" x2="412.5" y2="159.2"/>
<line x1="371.2" y1="118.3" x2="312.4" y2="177"/>
<line x1="371.2" y1="118.3" x2="341.1" y2="180.9"/>
<line x1="371.2" y1="118.3" x2="368.5" y2="185.6"/>
<line x1="371.2" y1="118.3" x2="392.2" y2="180.9"/>
<line x1="396.8" y1="113.6" x2="409.5" y2="131.3"/>
<line x1="396.8" y1="113.6" x2="370.7" y2="137.4"/>
<line x1="396.8" y1="113.6" x2="384.3" y2="159.2"/>
<line x1="396.8" y1="113.6" x2="412.5" y2="159.2"/>
<line x1="396.8" y1="113.6" x2="341.1" y2="180.9"/>
<line x1="396.8" y1="113.6" x2="368.5" y2="185.6"/>
<line x1="396.8" y1="113.6" x2="392.2" y2="180.9"/>
<line x1="409.5" y1="131.3" x2="370.7" y2="137.4"/>
<line x1="409.5" y1="131.3" x2="384.3" y2="159.2"/>
<line x1="409.5" y1="131.3" x2="412.5" y2="159.2"/>
<line x1="409.5" y1="131.3" x2="312.4" y2="177"/>
<line x1="409.5" y1="131.3" x2="368.5" y2="185.6"/>
<line x1="409.5" y1="131.3" x2="392.2" y2="180.9"/>
<line x1="370.7" y1="137.4" x2="394.2" y2="147"/>
<line x1="370.7" y1="137.4" x2="384.3" y2="159.2"/>
<line x1="370.7" y1="137.4" x2="412.5" y2="159.2"/>
<line x1="370.7" y1="137.4" x2="341.1" y2="180.9"/>
<line x1="370.7" y1="137.4" x2="368.5" y2="185.6"/>
<line x1="394.2" y1="147" x2="384.3" y2="159.2"/>
<line x1="394.2" y1="147" x2="412.5" y2="159.2"/>
<line x1="394.2" y1="147" x2="312.4" y2="177"/>
<line x1="394.2" y1="147" x2="341.1" y2="180.9"/>
<line x1="394.2" y1="147" x2="368.5" y2="185.6"/>
<line x1="394.2" y1="147" x2="392.2" y2="180.9"/>
<line x1="384.3" y1="159.2" x2="412.5" y2="159.2"/>
<line x1="384.3" y1="159.2" x2="312.4" y2="177"/>
<line x1="384.3" y1="159.2" x2="341.1" y2="180.9"/>
<line x1="384.3" y1="159.2" x2="368.5" y2="185.6"/>
<line x1="384.3" y1="159.2" x2="392.2" y2="180.9"/>
<line x1="412.5" y1="159.2" x2="341.1" y2="180.9"/>
<line x1="412.5" y1="159.2" x2="368.5" y2="185.6"/>
<line x1="412.5" y1="159.2" x2="392.2" y2="180.9"/>
<line x1="312.4" y1="177" x2="368.5" y2="185.6"/>
<line x1="341.1" y1="180.9" x2="368.5" y2="185.6"/>
<line x1="341.1" y1="180.9" x2="392.2" y2="180.9"/>
<line x1="368.5" y1="185.6" x2="392.2" y2="180.9"/>
<line x1="468.5" y1="85" x2="496.8" y2="86.9"/>
<line x1="468.5" y1="85" x2="457.4" y2="100.1"/>
<line x1="468.5" y1="85" x2="511.4" y2="114.7"/>
<line x1="468.5" y1="85" x2="457.4" y2="125.2"/>
<line x1="468.5" y1="85" x2="453.6" y2="150.6"/>
<line x1="468.5" y1="85" x2="515.4" y2="154.8"/>
<line x1="468.5" y1="85" x2="521.5" y2="168.8"/>
<line x1="468.5" y1="85" x2="465.8" y2="178.3"/>
<line x1="468.5" y1="85" x2="511" y2="180.1"/>
<line x1="468.5" y1="85" x2="485.3" y2="190.2"/>
<line x1="496.8" y1="86.9" x2="457.4" y2="100.1"/>
<line x1="496.8" y1="86.9" x2="511.4" y2="114.7"/>
<line x1="496.8" y1="86.9" x2="457.4" y2="125.2"/>
<line x1="496.8" y1="86.9" x2="453.6" y2="150.6"/>
<line x1="496.8" y1="86.9" x2="515.4" y2="154.8"/>
<line x1="496.8" y1="86.9" x2="521.5" y2="168.8"/>
<line x1="496.8" y1="86.9" x2="465.8" y2="178.3"/>
<line x1="496.8" y1="86.9" x2="511" y2="180.1"/>
<line x1="496.8" y1="86.9" x2="485.3" y2="190.2"/>
<line x1="457.4" y1="100.1" x2="511.4" y2="114.7"/>
<line x1="457.4" y1="100.1" x2="457.4" y2="125.2"/>
<line x1="457.4" y1="100.1" x2="515.4" y2="154.8"/>
<line x1="457.4" y1="100.1" x2="521.5" y2="168.8"/>
<line x1="457.4" y1="100.1" x2="465.8" y2="178.3"/>
<line x1="457.4" y1="100.1" x2="511" y2="180.1"/>
<line x1="457.4" y1="100.1" x2="485.3" y2="190.2"/>
<line x1="511.4" y1="114.7" x2="457.4" y2="125.2"/>
<line x1="511.4" y1="114.7" x2="453.6" y2="150.6"/>
<line x1="511.4" y1="114.7" x2="515.4" y2="154.8"/>
<line x1="511.4" y1="114.7" x2="465.8" y2="178.3"/>
<line x1="457.4" y1="125.2" x2="453.6" y2="150.6"/>
<line x1="457.4" y1="125.2" x2="515.4" y2="154.8"/>
<line x1="457.4" y1="125.2" x2="465.8" y2="178.3"/>
<line x1="457.4" y1="125.2" x2="511" y2="180.1"/>
<line x1="457.4" y1="125.2" x2="485.3" y2="190.2"/>
<line x1="453.6" y1="150.6" x2="515.4" y2="154.8"/>
<line x1="453.6" y1="150.6" x2="521.5" y2="168.8"/>
<line x1="453.6" y1="150.6" x2="465.8" y2="178.3"/>
<line x1="453.6" y1="150.6" x2="511" y2="180.1"/>
<line x1="453.6" y1="150.6" x2="485.3" y2="190.2"/>
<line x1="515.4" y1="154.8" x2="521.5" y2="168.8"/>
<line x1="515.4" y1="154.8" x2="511" y2="180.1"/>
<line x1="515.4" y1="154.8" x2="485.3" y2="190.2"/>
<line x1="521.5" y1="168.8" x2="465.8" y2="178.3"/>
<line x1="521.5" y1="168.8" x2="511" y2="180.1"/>
<line x1="465.8" y1="178.3" x2="485.3" y2="190.2"/>
<line x1="436.5" y1="126.6" x2="412.5" y2="159.2"/>
<line x1="436.5" y1="126.6" x2="394.2" y2="147"/>
<line x1="436.5" y1="126.6" x2="409.5" y2="131.3"/>
<line x1="436.5" y1="126.6" x2="431.6" y2="170"/>
<line x1="436.5" y1="126.6" x2="450.8" y2="204.3"/>
<line x1="431.6" y1="170" x2="412.5" y2="159.2"/>
<line x1="431.6" y1="170" x2="394.2" y2="147"/>
<line x1="431.6" y1="170" x2="384.3" y2="159.2"/>
<line x1="431.6" y1="170" x2="409.5" y2="131.3"/>
<line x1="431.6" y1="170" x2="392.2" y2="180.9"/>
<line x1="431.6" y1="170" x2="406.3" y2="201.1"/>
<line x1="431.6" y1="170" x2="450.8" y2="204.3"/>
<line x1="431.6" y1="170" x2="432.3" y2="213.2"/>
<line x1="406.3" y1="201.1" x2="450.8" y2="204.3"/>
</g>
<ellipse cx="315.9" cy="65.40" rx="4.75" ry="5.3" fill="#c35ab6"/>
<ellipse cx="359.4" cy="70.10" rx="4.75" ry="5.3" fill="#c35ab6"/>
<ellipse cx="383.4" cy="67.80" rx="4.75" ry="5.3" fill="#c35ab6"/>
<ellipse cx="399.4" cy="78.50" rx="4.75" ry="5.3" fill="#c35ab6"/>
<ellipse cx="303.7" cy="89.80" rx="4.75" ry="5.3" fill="#c35ab6"/>
<ellipse cx="336.8" cy="85.80" rx="4.75" ry="5.3" fill="#c35ab6"/>
<ellipse cx="371.5" cy="89.80" rx="4.75" ry="5.3" fill="#c35ab6"/>
<ellipse cx="405" cy="93.30" rx="4.75" ry="5.3" fill="#c35ab6"/>
<ellipse cx="313.3" cy="115.10" rx="4.75" ry="5.3" fill="#c35ab6"/>
<ellipse cx="327.2" cy="127.80" rx="4.75" ry="5.3" fill="#c35ab6"/>
<ellipse cx="347.8" cy="135.10" rx="4.75" ry="5.3" fill="#c35ab6"/>
<ellipse cx="310.3" cy="149.90" rx="4.75" ry="5.3" fill="#c35ab6"/>
<ellipse cx="371.2" cy="118.60" rx="4.75" ry="5.3" fill="#c35ab6"/>
<ellipse cx="396.8" cy="113.90" rx="4.75" ry="5.3" fill="#c35ab6"/>
<ellipse cx="409.5" cy="131.60" rx="4.75" ry="5.3" fill="#c35ab6"/>
<ellipse cx="370.7" cy="137.70" rx="4.75" ry="5.3" fill="#c35ab6"/>
<ellipse cx="394.2" cy="147.30" rx="4.75" ry="5.3" fill="#c35ab6"/>
<ellipse cx="384.3" cy="159.50" rx="4.75" ry="5.3" fill="#c35ab6"/>
<ellipse cx="412.5" cy="159.50" rx="4.75" ry="5.3" fill="#c35ab6"/>
<ellipse cx="312.4" cy="177.30" rx="4.75" ry="5.3" fill="#c35ab6"/>
<ellipse cx="341.1" cy="181.20" rx="4.75" ry="5.3" fill="#c35ab6"/>
<ellipse cx="368.5" cy="185.90" rx="4.75" ry="5.3" fill="#c35ab6"/>
<ellipse cx="392.2" cy="181.20" rx="4.75" ry="5.3" fill="#c35ab6"/>
<ellipse cx="468.5" cy="85.30" rx="4.75" ry="5.3" fill="#44549a"/>
<ellipse cx="496.8" cy="87.20" rx="4.75" ry="5.3" fill="#44549a"/>
<ellipse cx="457.4" cy="100.40" rx="4.75" ry="5.3" fill="#44549a"/>
<ellipse cx="511.4" cy="115.00" rx="4.75" ry="5.3" fill="#44549a"/>
<ellipse cx="457.4" cy="125.50" rx="4.75" ry="5.3" fill="#44549a"/>
<ellipse cx="453.6" cy="150.90" rx="4.75" ry="5.3" fill="#44549a"/>
<ellipse cx="515.4" cy="155.10" rx="4.75" ry="5.3" fill="#44549a"/>
<ellipse cx="521.5" cy="169.10" rx="4.75" ry="5.3" fill="#44549a"/>
<ellipse cx="465.8" cy="178.60" rx="4.75" ry="5.3" fill="#44549a"/>
<ellipse cx="511" cy="180.40" rx="4.75" ry="5.3" fill="#44549a"/>
<ellipse cx="485.3" cy="190.50" rx="4.75" ry="5.3" fill="#44549a"/>
<ellipse cx="436.5" cy="126.90" rx="4.75" ry="5.3" fill="#9edcc6"/>
<ellipse cx="431.6" cy="170.30" rx="4.75" ry="5.3" fill="#9edcc6"/>
<ellipse cx="406.3" cy="201.40" rx="4.75" ry="5.3" fill="#9edcc6"/>
<ellipse cx="450.8" cy="204.60" rx="4.75" ry="5.3" fill="#9edcc6"/>
<ellipse cx="432.3" cy="213.50" rx="4.75" ry="5.3" fill="#9edcc6"/>
<ellipse cx="336.2" cy="208.00" rx="4.75" ry="5.3" fill="#78c257"/>
<ellipse cx="522.4" cy="208.50" rx="4.75" ry="5.3" fill="#8aae6c"/>
<circle cx="309.3" cy="93.3" r="0.65" fill="#111"/>
<text x="317" y="73.30" font-size="2.7" fill="#1e1e1e" stroke="#1e1e1e" stroke-width="0.09" text-anchor="middle">positive regulation of cellular</text>
<text x="317" y="77.60" font-size="2.7" fill="#1e1e1e" stroke="#1e1e1e" stroke-width="0.09" text-anchor="middle">metabolic process</text>
<text x="355.5" y="77.40" font-size="2.7" fill="#1e1e1e" stroke="#1e1e1e" stroke-width="0.09" text-anchor="middle">positive regulation of RNA biosynthetic</text>
<text x="355.5" y="81.40" font-size="2.7" fill="#1e1e1e" stroke="#1e1e1e" stroke-width="0.09" text-anchor="middle">process</text>
<text x="385" y="75.20" font-size="2.7" fill="#1e1e1e" stroke="#1e1e1e" stroke-width="0.09" text-anchor="middle">positive regulation</text>
<text x="385" y="78.10" font-size="2.7" fill="#1e1e1e" stroke="#1e1e1e" stroke-width="0.09" text-anchor="middle">of biological process</text>
<text x="407.3" y="86.10" font-size="2.7" fill="#1e1e1e" stroke="#1e1e1e" stroke-width="0.09" text-anchor="middle">sequence-specific double-stranded</text>
<text x="407.3" y="88.80" font-size="2.7" fill="#1e1e1e" stroke="#1e1e1e" stroke-width="0.09" text-anchor="middle">DNA binding</text>
<text x="307.2" y="100.40" font-size="2.7" fill="#1e1e1e" stroke="#1e1e1e" stroke-width="0.09" text-anchor="middle">transcription by RNA polymerase II</text>
<text x="338.6" y="93.90" font-size="2.7" fill="#1e1e1e" stroke="#1e1e1e" stroke-width="0.09" text-anchor="middle">positive regulation of RNA</text>
<text x="338.6" y="97.70" font-size="2.7" fill="#1e1e1e" stroke="#1e1e1e" stroke-width="0.09" text-anchor="middle">metabolic process</text>
<text x="372.5" y="96.90" font-size="2.7" fill="#1e1e1e" stroke="#1e1e1e" stroke-width="0.09" text-anchor="middle">positive regulation of nitrogen</text>
<text x="372.5" y="100.40" font-size="2.7" fill="#1e1e1e" stroke="#1e1e1e" stroke-width="0.09" text-anchor="middle">compound metabolic process</text>
<text x="411" y="103.20" font-size="2.7" fill="#1e1e1e" stroke="#1e1e1e" stroke-width="0.09" text-anchor="middle">positive regulation of cellular process</text>
<text x="317.5" y="122.60" font-size="2.7" fill="#1e1e1e" stroke="#1e1e1e" stroke-width="0.09" text-anchor="middle">positive regulation of biosynthetic</text>
<text x="317.5" y="125.40" font-size="2.7" fill="#1e1e1e" stroke="#1e1e1e" stroke-width="0.09" text-anchor="middle">process</text>
<text x="326" y="136.40" font-size="2.7" fill="#1e1e1e" stroke="#1e1e1e" stroke-width="0.09" text-anchor="middle">positive regulation of gene</text>
<text x="326" y="138.90" font-size="2.7" fill="#1e1e1e" stroke="#1e1e1e" stroke-width="0.09" text-anchor="middle">expression</text>
<text x="350.6" y="142.40" font-size="2.7" fill="#1e1e1e" stroke="#1e1e1e" stroke-width="0.09" text-anchor="middle">positive regulation of RNA</text>
<text x="350.6" y="145.10" font-size="2.7" fill="#1e1e1e" stroke="#1e1e1e" stroke-width="0.09" text-anchor="middle">biosynthetic process</text>
<text x="315.7" y="158.00" font-size="2.7" fill="#1e1e1e" stroke="#1e1e1e" stroke-width="0.09" text-anchor="middle">positive regulation of metabolic</text>
<text x="315.7" y="161.00" font-size="2.7" fill="#1e1e1e" stroke="#1e1e1e" stroke-width="0.09" text-anchor="middle">process</text>
<text x="371.5" y="126.60" font-size="2.7" fill="#1e1e1e" stroke="#1e1e1e" stroke-width="0.09" text-anchor="middle">positive regulation of nucleobase-containing</text>
<text x="371.5" y="129.60" font-size="2.7" fill="#1e1e1e" stroke="#1e1e1e" stroke-width="0.09" text-anchor="middle">compound metabolic process</text>
<text x="403" y="121.00" font-size="2.7" fill="#1e1e1e" stroke="#1e1e1e" stroke-width="0.09" text-anchor="middle">positive regulation of cellular</text>
<text x="403" y="124.00" font-size="2.7" fill="#1e1e1e" stroke="#1e1e1e" stroke-width="0.09" text-anchor="middle">macromolecule biosynthetic process</text>
<text x="410" y="139.60" font-size="2.7" fill="#1e1e1e" stroke="#1e1e1e" stroke-width="0.09" text-anchor="middle">positive regulation of nucleic</text>
<text x="410" y="142.50" font-size="2.7" fill="#1e1e1e" stroke="#1e1e1e" stroke-width="0.09" text-anchor="middle">acid-templated transcription</text>
<text x="370.4" y="144.90" font-size="2.7" fill="#1e1e1e" stroke="#1e1e1e" stroke-width="0.09" text-anchor="middle">positive regulation of macromolecule</text>
<text x="370.4" y="147.80" font-size="2.7" fill="#1e1e1e" stroke="#1e1e1e" stroke-width="0.09" text-anchor="middle">biosynthetic process</text>
<text x="402" y="154.50" font-size="2.7" fill="#1e1e1e" stroke="#1e1e1e" stroke-width="0.09" text-anchor="middle">RNA polymerase II regulatory region sequence-</text>
<text x="402" y="157.10" font-size="2.7" fill="#1e1e1e" stroke="#1e1e1e" stroke-width="0.09" text-anchor="middle">specific DNA binding</text>
<text x="377.3" y="167.20" font-size="2.7" fill="#1e1e1e" stroke="#1e1e1e" stroke-width="0.09" text-anchor="middle">positive regulation of transcription, DNA-templated</text>
<text x="377.3" y="170.60" font-size="2.7" fill="#1e1e1e" stroke="#1e1e1e" stroke-width="0.09" text-anchor="middle">binding</text>
<text x="419" y="167.20" font-size="2.7" fill="#1e1e1e" stroke="#1e1e1e" stroke-width="0.09" text-anchor="middle">positive regulation of transcription by</text>
<text x="419" y="172.20" font-size="2.7" fill="#1e1e1e" stroke="#1e1e1e" stroke-width="0.09" text-anchor="middle">RNA polymerase II</text>
<text x="311.2" y="185.80" font-size="2.7" fill="#1e1e1e" stroke="#1e1e1e" stroke-width="0.09" text-anchor="middle">positive regulation of macromolecule</text>
<text x="311.2" y="189.30" font-size="2.7" fill="#1e1e1e" stroke="#1e1e1e" stroke-width="0.09" text-anchor="middle">biosynthetic process</text>
<text x="345" y="189.30" font-size="2.7" fill="#1e1e1e" stroke="#1e1e1e" stroke-width="0.09" text-anchor="middle">RNA polymerase II regulatory region</text>
<text x="345" y="193.20" font-size="2.7" fill="#1e1e1e" stroke="#1e1e1e" stroke-width="0.09" text-anchor="middle">DNA binding</text>
<text x="396" y="189.30" font-size="2.7" fill="#1e1e1e" stroke="#1e1e1e" stroke-width="0.09" text-anchor="middle">double-stranded DNA binding</text>
<text x="468.5" y="93.40" font-size="2.7" fill="#2e2e2e" stroke="#2e2e2e" stroke-width="0.09" text-anchor="middle">phyllome development</text>
<text x="496.8" y="95.90" font-size="2.7" fill="#2e2e2e" stroke="#2e2e2e" stroke-width="0.09" text-anchor="middle">flower development</text>
<text x="457.4" y="108.00" font-size="2.7" fill="#2e2e2e" stroke="#2e2e2e" stroke-width="0.09" text-anchor="middle">carpel development</text>
<text x="511.8" y="123.70" font-size="2.7" fill="#2e2e2e" stroke="#2e2e2e" stroke-width="0.09" text-anchor="middle">plant organ development</text>
<text x="458.5" y="134.10" font-size="2.7" fill="#2e2e2e" stroke="#2e2e2e" stroke-width="0.09" text-anchor="middle">plant ovule development</text>
<text x="455.3" y="160.00" font-size="2.7" fill="#2e2e2e" stroke="#2e2e2e" stroke-width="0.09" text-anchor="middle">floral whorl development</text>
<text x="517.5" y="163.40" font-size="2.7" fill="#2e2e2e" stroke="#2e2e2e" stroke-width="0.09" text-anchor="middle">floral organ development</text>
<text x="531" y="177.70" font-size="2.7" fill="#2e2e2e" stroke="#2e2e2e" stroke-width="0.09" text-anchor="middle">reproductive shoot system</text>
<text x="531" y="180.80" font-size="2.7" fill="#2e2e2e" stroke="#2e2e2e" stroke-width="0.09" text-anchor="middle">development</text>
<text x="466.5" y="187.00" font-size="2.7" fill="#2e2e2e" stroke="#2e2e2e" stroke-width="0.09" text-anchor="middle">shoot system development</text>
<text x="513.2" y="190.40" font-size="2.7" fill="#2e2e2e" stroke="#2e2e2e" stroke-width="0.09" text-anchor="middle">gynoecium development</text>
<text x="436" y="135.20" font-size="2.7" fill="#1e1e1e" stroke="#1e1e1e" stroke-width="0.09" text-anchor="middle">multicellular organism development</text>
<text x="432" y="178.00" font-size="2.7" fill="#1e1e1e" stroke="#1e1e1e" stroke-width="0.09" text-anchor="middle">transcription regulatory region DNA</text>
<text x="432" y="181.20" font-size="2.7" fill="#1e1e1e" stroke="#1e1e1e" stroke-width="0.09" text-anchor="middle">binding</text>
<text x="405" y="210.50" font-size="2.7" fill="#1e1e1e" stroke="#1e1e1e" stroke-width="0.09" text-anchor="middle">sequence-specific DNA binding</text>
<text x="459.5" y="214.50" font-size="2.7" fill="#1e1e1e" stroke="#1e1e1e" stroke-width="0.09" text-anchor="middle">regulatory region nucleic acid binding</text>
<text x="368.6" y="195.40" font-weight="bold" font-size="5.0" text-anchor="middle" fill="#bd3ea8" stroke="#bd3ea8" stroke-width="0.12">transcription</text>
<text x="368.6" y="200.40" font-weight="bold" font-size="5.0" text-anchor="middle" fill="#bd3ea8" stroke="#bd3ea8" stroke-width="0.12">regulatory region</text>
<text x="368.6" y="205.40" font-weight="bold" font-size="5.0" text-anchor="middle" fill="#bd3ea8" stroke="#bd3ea8" stroke-width="0.12">sequence-specific</text>
<text x="368.6" y="210.40" font-weight="bold" font-size="5.0" text-anchor="middle" fill="#bd3ea8" stroke="#bd3ea8" stroke-width="0.12">DNA binding</text>
<text x="338.8" y="218.20" font-weight="bold" font-size="5.0" text-anchor="middle" fill="#76c44f" stroke="#76c44f" stroke-width="0.12">protein dimerization</text>
<text x="338.8" y="223.40" font-weight="bold" font-size="5.0" text-anchor="middle" fill="#76c44f" stroke="#76c44f" stroke-width="0.12">activity</text>
<text x="484.2" y="201.20" font-weight="bold" font-size="5.0" text-anchor="middle" fill="#38458a" stroke="#38458a" stroke-width="0.12">plant-type ovary</text>
<text x="484.2" y="207.20" font-weight="bold" font-size="5.0" text-anchor="middle" fill="#38458a" stroke="#38458a" stroke-width="0.12">development</text>
<text x="434.2" y="224.60" font-weight="bold" font-size="5.0" text-anchor="middle" fill="#92d8c0" stroke="#92d8c0" stroke-width="0.12">transcription factor</text>
<text x="434.2" y="230.40" font-weight="bold" font-size="5.0" text-anchor="middle" fill="#92d8c0" stroke="#92d8c0" stroke-width="0.12">binding</text>
<text x="524.3" y="219.20" font-weight="bold" font-size="5.0" text-anchor="middle" fill="#7c9f5e" stroke="#7c9f5e" stroke-width="0.12">proximal promoter</text>
<text x="524.3" y="224.60" font-weight="bold" font-size="5.0" text-anchor="middle" fill="#7c9f5e" stroke="#7c9f5e" stroke-width="0.12">sequence-specific</text>
<text x="524.3" y="230.00" font-weight="bold" font-size="5.0" text-anchor="middle" fill="#7c9f5e" stroke="#7c9f5e" stroke-width="0.12">DNA binding</text>
</g>
</svg>
</body></html>
